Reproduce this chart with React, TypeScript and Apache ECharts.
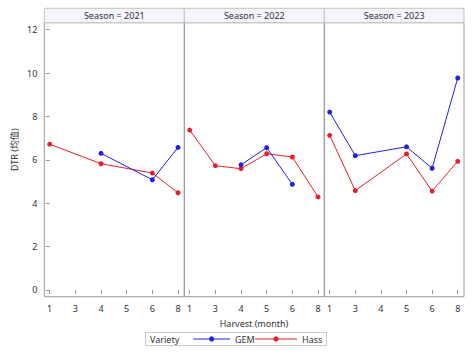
import React, { useEffect, useRef } from "react";
import * as echarts from "echarts";

const months = ["1", "3", "4", "5", "6", "8"];
const seasons = ["2021", "2022", "2023"];
const yTicks = [0, 2, 4, 6, 8, 10, 12];
const varieties = ["GEM", "Hass"];

// [month index, DTR mean]
const gem2021 = [[2, 6.3], [4, 5.08], [5, 6.57]];
const hass2021 = [[0, 6.72], [2, 5.82], [4, 5.39], [5, 4.48]];
const gem2022 = [[2, 5.77], [3, 6.56], [4, 4.87]];
const hass2022 = [[0, 7.37], [1, 5.73], [2, 5.59], [3, 6.28], [4, 6.13], [5, 4.29]];
const gem2023 = [[0, 8.2], [1, 6.19], [3, 6.6], [4, 5.61], [5, 9.77]];
const hass2023 = [[0, 7.13], [1, 4.58], [3, 6.27], [4, 4.56], [5, 5.93]];

const gemData = [gem2021, gem2022, gem2023];
const hassData = [hass2021, hass2022, hass2023];

const BLUE = "#1f1fe6";
const RED = "#e5202a";
const FONT = "'Noto Sans', 'Noto Sans CJK SC', sans-serif";
const FS = 9;

export default function App() {
  const ref = useRef<HTMLDivElement>(null);
  useEffect(() => {
    document.body.style.margin = "0";
    const chart = echarts.init(ref.current!, null, { renderer: "svg" });
    const lefts = [44.3, 184.3, 324.3];
    const widths = [140, 140, 139.7];
    const top = 22.7;
    const height = 274;
    const grids = lefts.map((l, i) => ({
      left: l,
      top,
      width: widths[i],
      height,
      show: true,
      borderColor: "#9a9a9a",
      borderWidth: 1,
      backgroundColor: "transparent",
    }));
    const xAxes = lefts.map((_, i) => ({
      type: "value",
      gridIndex: i,
      min: -0.21,
      max: 5.245,
      axisLine: { show: false },
      splitLine: { show: false },
      axisTick: {
        show: true,
        customValues: [0, 1, 2, 3, 4, 5],
        length: 4,
        lineStyle: { color: "#9a9a9a" },
      },
      axisLabel: {
        customValues: [0, 1, 2, 3, 4, 5],
        formatter: (v: number) => months[Math.round(v)] ?? "",
        fontSize: FS,
        color: "#333",
        fontFamily: FONT,
        margin: 7,
      },
    }));
    const yAxes = lefts.map((_, i) => ({
      type: "value",
      gridIndex: i,
      min: -0.31,
      max: 12.32,
      axisLine: { show: false },
      splitLine: { show: false },
      axisTick: {
        show: i === 0,
        customValues: yTicks,
        length: 4,
        lineStyle: { color: "#9a9a9a" },
      },
      axisLabel: {
        show: i === 0,
        customValues: yTicks,
        fontSize: FS,
        color: "#333",
        fontFamily: FONT,
        margin: 7,
      },
    }));
    const series: any[] = [];
    seasons.forEach((_, i) => {
      series.push({
        name: varieties[0],
        type: "line",
        xAxisIndex: i,
        yAxisIndex: i,
        data: gemData[i],
        symbol: "circle",
        symbolSize: 5,
        lineStyle: { color: BLUE, width: 1 },
        itemStyle: { color: BLUE },
        z: 3,
      });
      series.push({
        name: varieties[1],
        type: "line",
        xAxisIndex: i,
        yAxisIndex: i,
        data: hassData[i],
        symbol: "circle",
        symbolSize: 5,
        lineStyle: { color: RED, width: 1 },
        itemStyle: { color: RED },
        z: 2,
      });
    });
    const txt = (x: number, y: number, text: string, align = "left", extra: any = {}) => ({
      type: "text",
      x,
      y,
      z: 3,
      ...extra,
      style: {
        text,
        align,
        verticalAlign: "middle",
        fontSize: FS,
        fill: "#333",
        fontFamily: FONT,
      },
    });
    const graphic: any[] = [];
    lefts.forEach((l, i) => {
      graphic.push({
        type: "rect",
        shape: { x: l, y: 8.3, width: widths[i], height: 14.4 },
        style: { fill: "#f4f4fa", stroke: "#c4c4c4", lineWidth: 1 },
        z: 1,
      });
      graphic.push(txt(l + widths[i] / 2, 15.5, "Season = " + seasons[i], "center"));
    });
    graphic.push(txt(254, 323, "Harvest (month)", "center"));
    graphic.push(txt(14, 171, "DTR (均值)", "left", { rotation: Math.PI / 2 }));
    // legend
    graphic.push({
      type: "rect",
      shape: { x: 145.5, y: 332.5, width: 181, height: 13 },
      style: { fill: "#fff", stroke: "#c8c8c8", lineWidth: 1 },
      z: 1,
    });
    graphic.push(txt(150, 339.2, "Variety"));
    const legendItems = [
      { x0: 193.3, x1: 230, tx: 235, color: BLUE, name: varieties[0] },
      { x0: 255, x1: 297, tx: 302, color: RED, name: varieties[1] },
    ];
    legendItems.forEach((it) => {
      graphic.push({
        type: "line",
        shape: { x1: it.x0, y1: 339, x2: it.x1, y2: 339 },
        style: { stroke: it.color, lineWidth: 1 },
        z: 3,
      });
      graphic.push({
        type: "circle",
        shape: { cx: (it.x0 + it.x1) / 2, cy: 339, r: 2.6 },
        style: { fill: it.color },
        z: 3,
      });
      graphic.push(txt(it.tx, 339.2, it.name));
    });
    chart.setOption({
      animation: false,
      grid: grids,
      xAxis: xAxes,
      yAxis: yAxes,
      series,
      graphic,
    });
    return () => chart.dispose();
  }, []);
  return <div ref={ref} style={{ width: 474, height: 355 }} />;
}
